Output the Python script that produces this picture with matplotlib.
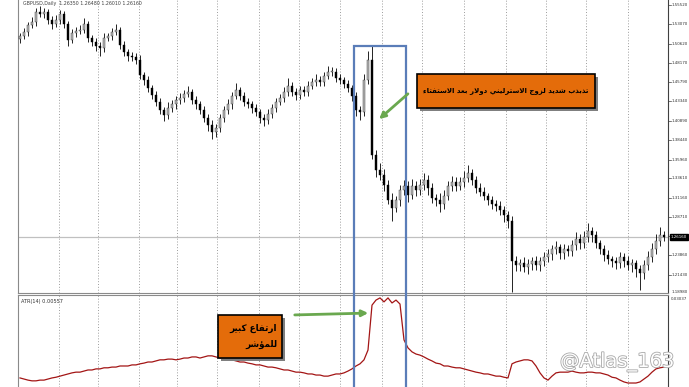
import matplotlib
matplotlib.use("Agg")
import matplotlib.pyplot as plt
import matplotlib.patches as patches
import matplotlib.patheffects as pe
import numpy as np

plt.rcParams['font.family'] = ['DejaVu Sans']

# ---- data ----
first_open = 1.5120
closes = [1.5160, 1.5211, 1.5299, 1.5337, 1.5463, 1.5438, 1.5463, 1.5362, 1.5312, 1.5362,
          1.5438, 1.5312, 1.5110, 1.5198, 1.5224, 1.5236, 1.5312, 1.5135, 1.5084, 1.5034,
          1.5008, 1.5135, 1.5160, 1.5211, 1.5236, 1.5046, 1.4958, 1.4907, 1.4895, 1.4857,
          1.4667, 1.4604, 1.4503, 1.4414, 1.4326, 1.4225, 1.4161, 1.4250, 1.4300, 1.4351,
          1.4376, 1.4427, 1.4452, 1.4351, 1.4300, 1.4225, 1.4124, 1.4035, 1.3947, 1.3997,
          1.4124, 1.4225, 1.4300, 1.4402, 1.4477, 1.4402, 1.4326, 1.4300, 1.4250, 1.4199,
          1.4124, 1.4098, 1.4174, 1.4250, 1.4326, 1.4376, 1.4452, 1.4528, 1.4452, 1.4414,
          1.4477, 1.4452, 1.4528, 1.4579, 1.4604, 1.4579, 1.4655, 1.4705, 1.4705, 1.4630,
          1.4604, 1.4554, 1.4503, 1.4402, 1.4225, 1.4199, 1.4604, 1.4857, 1.3659, 1.3469,
          1.3406, 1.3279, 1.3090, 1.2989, 1.3090, 1.3216, 1.3266, 1.3153, 1.3266, 1.3216,
          1.3279, 1.3342, 1.3241, 1.3115, 1.3090, 1.3039, 1.3140, 1.3266, 1.3317, 1.3266,
          1.3317, 1.3368, 1.3431, 1.3342, 1.3241, 1.3191, 1.3140, 1.3090, 1.3039, 1.3014,
          1.2964, 1.2893, 1.2818, 1.2314, 1.2263, 1.2289, 1.2238, 1.2276, 1.2314, 1.2263,
          1.2314, 1.2364, 1.2402, 1.2465, 1.2490, 1.2415, 1.2465, 1.2440, 1.2515, 1.2591,
          1.2541, 1.2616, 1.2692, 1.2641, 1.2541, 1.2465, 1.2389, 1.2339, 1.2314, 1.2289,
          1.2364, 1.2314, 1.2263, 1.2289, 1.2213, 1.2163, 1.2263, 1.2364, 1.2465, 1.2566,
          1.2641, 1.2616]

# wick lengths above / below the body, in pips
up_pips = [40, 55, 35, 60, 45, 70, 50, 35, 45, 60,
           55, 40, 35, 50, 45, 60, 70, 40, 35, 45,
           50, 65, 40, 45, 70, 35, 50, 40, 45, 55,
           60, 40, 50, 35, 45, 55, 40, 70, 50, 45,
           60, 55, 80, 40, 45, 35, 50, 45, 60, 55,
           45, 50, 60, 55, 90, 40, 45, 50, 35, 45,
           40, 55, 60, 45, 50, 55, 65, 100, 45, 50,
           55, 45, 60, 50, 70, 45, 55, 80, 60, 45,
           50, 40, 45, 40, 50, 45, 80, 110, 180, 60,
           80, 70, 60, 90, 50, 60, 75, 55, 80, 60,
           70, 90, 55, 60, 45, 80, 70, 60, 75, 55,
           60, 80, 95, 50, 45, 60, 55, 40, 50, 45,
           55, 50, 60, 70, 60, 55, 80, 60, 50, 65,
           55, 70, 60, 55, 80, 45, 60, 55, 70, 90,
           60, 80, 100, 55, 50, 45, 55, 60, 45, 50,
           70, 55, 60, 50, 45, 55, 70, 80, 75, 90,
           100, 60]
down_pips = [50, 40, 45, 35, 55, 40, 50, 45, 60, 40,
             45, 55, 80, 40, 50, 45, 35, 50, 45, 60,
             100, 45, 40, 50, 35, 55, 45, 60, 50, 45,
             50, 60, 45, 55, 50, 45, 80, 50, 45, 60,
             45, 50, 40, 55, 60, 45, 50, 70, 90, 60,
             55, 50, 45, 60, 40, 50, 55, 45, 60, 50,
             65, 70, 50, 45, 55, 40, 50, 45, 55, 60,
             45, 50, 55, 40, 45, 50, 45, 40, 55, 50,
             45, 55, 50, 60, 80, 100, 55, 50, 60, 90,
             70, 80, 60, 170, 60, 80, 70, 90, 60, 75,
             60, 70, 90, 65, 80, 100, 60, 55, 70, 60,
             55, 60, 50, 65, 70, 60, 55, 70, 60, 65,
             70, 80, 90, 390, 80, 70, 60, 90, 75, 60,
             70, 60, 55, 75, 60, 80, 70, 55, 60, 65,
             70, 55, 60, 80, 60, 55, 70, 65, 80, 75,
             60, 70, 65, 90, 100, 215, 70, 60, 65, 55,
             60, 50]

atr = [0.0075, 0.0072, 0.0069, 0.0067, 0.0067, 0.0069, 0.0069, 0.0072, 0.0075, 0.0077,
       0.0080, 0.0083, 0.0086, 0.0089, 0.0091, 0.0091, 0.0094, 0.0097, 0.0097, 0.0100,
       0.0100, 0.0103, 0.0103, 0.0105, 0.0105, 0.0108, 0.0108, 0.0108, 0.0111, 0.0111,
       0.0114, 0.0116, 0.0119, 0.0119, 0.0122, 0.0125, 0.0125, 0.0127, 0.0127, 0.0125,
       0.0127, 0.0130, 0.0130, 0.0133, 0.0133, 0.0130, 0.0133, 0.0136, 0.0136, 0.0133,
       0.0130, 0.0127, 0.0125, 0.0125, 0.0122, 0.0119, 0.0119, 0.0116, 0.0114, 0.0111,
       0.0111, 0.0108, 0.0105, 0.0105, 0.0103, 0.0100, 0.0097, 0.0097, 0.0094, 0.0091,
       0.0091, 0.0089, 0.0086, 0.0086, 0.0083, 0.0083, 0.0080, 0.0080, 0.0083, 0.0086,
       0.0086, 0.0089, 0.0094, 0.0100, 0.0108, 0.0114, 0.0125, 0.0152, 0.0276, 0.0290,
       0.0296, 0.0285, 0.0296, 0.0282, 0.0290, 0.0279, 0.0180, 0.0158, 0.0147, 0.0141,
       0.0138, 0.0133, 0.0127, 0.0122, 0.0116, 0.0114, 0.0108, 0.0108, 0.0105, 0.0103,
       0.0103, 0.0100, 0.0097, 0.0094, 0.0091, 0.0089, 0.0086, 0.0086, 0.0083, 0.0080,
       0.0080, 0.0077, 0.0075, 0.0114, 0.0119, 0.0122, 0.0125, 0.0125, 0.0122, 0.0108,
       0.0089, 0.0075, 0.0069, 0.0080, 0.0089, 0.0091, 0.0091, 0.0091, 0.0094, 0.0091,
       0.0089, 0.0089, 0.0091, 0.0091, 0.0089, 0.0089, 0.0086, 0.0083, 0.0077, 0.0075,
       0.0069, 0.0064, 0.0061, 0.0061, 0.0061, 0.0064, 0.0072, 0.0080, 0.0091, 0.0100,
       0.0103, 0.0105]

price_labels = ["1.55520", "1.53070", "1.50620", "1.48170", "1.45790", "1.43340",
                "1.40890", "1.38440", "1.35960", "1.33610", "1.31160", "1.28710",
                "1.26260", "1.23860", "1.21430", "1.18980"]
atr_label = "0.03037"
chart_title = "GBPUSD,Daily  1.26350 1.26480 1.26010 1.26160"
atr_title = "ATR(14) 0.00557"
note_big = "تذبذب شديد لزوج الاسترليني دولار بعد الاستفتاء"
note_small = ["ارتفاع كبير", "للمؤشر"]

# ---- tiny arabic shaper (matplotlib has no complex text layout) ----
FORMS = {
    'ا': ('\uFE8D', '\uFE8E', None, None),
    'ب': ('\uFE8F', '\uFE90', '\uFE91', '\uFE92'),
    'ت': ('\uFE95', '\uFE96', '\uFE97', '\uFE98'),
    'ج': ('\uFE9D', '\uFE9E', '\uFE9F', '\uFEA0'),
    'د': ('\uFEA9', '\uFEAA', None, None),
    'ذ': ('\uFEAB', '\uFEAC', None, None),
    'ر': ('\uFEAD', '\uFEAE', None, None),
    'ز': ('\uFEAF', '\uFEB0', None, None),
    'س': ('\uFEB1', '\uFEB2', '\uFEB3', '\uFEB4'),
    'ش': ('\uFEB5', '\uFEB6', '\uFEB7', '\uFEB8'),
    'ع': ('\uFEC9', '\uFECA', '\uFECB', '\uFECC'),
    'ف': ('\uFED1', '\uFED2', '\uFED3', '\uFED4'),
    'ك': ('\uFED9', '\uFEDA', '\uFEDB', '\uFEDC'),
    'ل': ('\uFEDD', '\uFEDE', '\uFEDF', '\uFEE0'),
    'م': ('\uFEE1', '\uFEE2', '\uFEE3', '\uFEE4'),
    'ن': ('\uFEE5', '\uFEE6', '\uFEE7', '\uFEE8'),
    'و': ('\uFEED', '\uFEEE', None, None),
    'ي': ('\uFEF1', '\uFEF2', '\uFEF3', '\uFEF4'),
    'ؤ': ('\uFE85', '\uFE86', None, None),
    'ء': ('\uFE80', '\uFE80', None, None),
}


def joins_next(c):
    f = FORMS.get(c)
    return f is not None and f[2] is not None


def shape(text):
    out = []
    i = 0
    n = len(text)
    while i < n:
        c = text[i]
        if c not in FORMS:
            out.append(c)
            i += 1
            continue
        prev = text[i - 1] if i > 0 else ''
        link_prev = joins_next(prev) and c != 'ء'
        if c == 'ل' and i + 1 < n and text[i + 1] == 'ا':
            out.append('\uFEFC' if link_prev else '\uFEFB')
            i += 2
            continue
        nxt = text[i + 1] if i + 1 < n else ''
        link_next = joins_next(c) and nxt in FORMS and nxt != 'ء'
        iso, fin, ini, med = FORMS[c]
        if link_prev and link_next:
            out.append(med)
        elif link_prev:
            out.append(fin)
        elif link_next:
            out.append(ini)
        else:
            out.append(iso)
        i += 1
    return ''.join(reversed(out))


# ---- figure ----
W, H = 689, 387
fig = plt.figure(figsize=(W / 100, H / 100), dpi=100)
fig.patch.set_facecolor('white')


def fx(px):
    return px / W


def fy(py):
    return 1 - py / H


ax = fig.add_axes([fx(18), fy(293), (668 - 18) / W, 293 / H])
ax2 = fig.add_axes([fx(18), 0, (668 - 18) / W, (387 - 295) / H])

n = len(closes)
idx = np.arange(n)
c = np.array(closes)
o = np.array([first_open] + closes[:-1])
hi = np.maximum(o, c) + np.array(up_pips) / 10000
lo = np.minimum(o, c) - np.array(down_pips) / 10000
up = c >= o

ax.vlines(idx, lo, hi, color='black', lw=0.6, zorder=3)
body_bot = np.minimum(o, c)
body_h = np.maximum(np.abs(c - o), 0.0008)
ax.bar(idx[up], body_h[up], bottom=body_bot[up], width=0.55,
       color='#b8b8b8', edgecolor='#303030', lw=0.3, zorder=4)
ax.bar(idx[~up], body_h[~up], bottom=body_bot[~up], width=0.55,
       color='black', edgecolor='black', lw=0.3, zorder=4)

ax.set_xlim(-0.5, 162)
ax.set_ylim(1.1911, 1.5615)
ax2.set_xlim(-0.5, 162)
ax2.set_ylim(0.0050, 0.0304)

ax2.plot(idx, atr, color='#a31515', lw=0.9, zorder=3)

grid_x = [9.75, 19.5, 29.75, 39.25, 49.25, 59.75, 69.75, 80, 90.5, 100.5,
          111, 121.5, 131.5, 141.5, 152]
for a in (ax, ax2):
    for gx in grid_x:
        a.axvline(gx, color='#909090', lw=0.6, linestyle=(0, (1.2, 2.2)), zorder=1)
    a.set_xticks([])
    a.set_yticks([])
    for s in ('top', 'bottom', 'left', 'right'):
        a.spines[s].set_color('#8a8a8a')
        a.spines[s].set_linewidth(0.8)
ax.spines['top'].set_visible(False)
ax2.spines['bottom'].set_visible(False)
ax.spines['right'].set_color('#404040')
ax2.spines['right'].set_color('#404040')

# current price line
ax.axhline(closes[-1], color='#c0c0c0', lw=0.9, zorder=2)

# right price scale
ytr = ax.get_yaxis_transform()
for lab in price_labels[:-1]:
    v = float(lab)
    ax.plot([1.0, 1.004], [v, v], transform=ytr, clip_on=False, color='#404040', lw=0.5)
    ax.text(1.005, v, lab, transform=ytr, fontsize=2.9, va='center', ha='left',
            color='#303030', clip_on=False)
ax.text(1.005, float(price_labels[-1]) + 0.003, price_labels[-1], transform=ytr,
        fontsize=2.9, va='center', ha='left', color='#303030', clip_on=False)
ax.text(1.004, closes[-1], f"{closes[-1]:.5f}", transform=ytr, fontsize=2.9,
        va='center', ha='left', color='white', clip_on=False, zorder=10,
        bbox=dict(boxstyle='square,pad=0.2', fc='black', ec='black'))
ax2.text(1.005, 0.0293, atr_label, transform=ax2.get_yaxis_transform(), fontsize=2.9,
         va='center', ha='left', color='#303030', clip_on=False)

ax.text(0.008, 0.998, chart_title, transform=ax.transAxes, fontsize=3.4,
        va='top', ha='left', color='#404040')
ax2.text(0.004, 0.96, atr_title, transform=ax2.transAxes, fontsize=3.6,
         va='top', ha='left', color='#303030')

# blue highlight rectangle
fig.add_artist(patches.Rectangle((fx(354), fy(392)), (406 - 354) / W, (392 - 46) / H,
                                 transform=fig.transFigure, fill=False,
                                 edgecolor='#5a7db8', lw=1.6, zorder=20))

# big note box
fig.add_artist(patches.Rectangle((fx(420), fy(111)), (595 - 417) / W, (108 - 74) / H,
                                 transform=fig.transFigure, facecolor='#7f7f7f',
                                 edgecolor='none', zorder=21))
fig.add_artist(patches.Rectangle((fx(417), fy(108)), (595 - 417) / W, (108 - 74) / H,
                                 transform=fig.transFigure, facecolor='#e46c0a',
                                 edgecolor='black', lw=1.2, zorder=22))
fig.text(fx(506), fy(91), shape(note_big), ha='center', va='center',
         fontsize=5.0, fontweight='bold', color='black', zorder=23)
fig.add_artist(patches.FancyArrowPatch((fx(410), fy(92)), (fx(377), fy(121)),
                                       transform=fig.transFigure, arrowstyle='-|>',
                                       mutation_scale=9, color='#6aa84f', lw=2, zorder=23))

# small note box
fig.add_artist(patches.Rectangle((fx(221), fy(361)), (282 - 218) / W, (358 - 315) / H,
                                 transform=fig.transFigure, facecolor='#7f7f7f',
                                 edgecolor='none', zorder=21))
fig.add_artist(patches.Rectangle((fx(218), fy(358)), (282 - 218) / W, (358 - 315) / H,
                                 transform=fig.transFigure, facecolor='#e46c0a',
                                 edgecolor='black', lw=1.2, zorder=22))
fig.text(fx(277), fy(328), shape(note_small[0]), ha='right', va='center',
         fontsize=6.3, fontweight='bold', color='black', zorder=23)
fig.text(fx(277), fy(344), shape(note_small[1]), ha='right', va='center',
         fontsize=6.3, fontweight='bold', color='black', zorder=23)
fig.add_artist(patches.FancyArrowPatch((fx(292), fy(315)), (fx(371), fy(313)),
                                       transform=fig.transFigure, arrowstyle='-|>',
                                       mutation_scale=9, color='#6aa84f', lw=2, zorder=23))

# watermark
fig.text(fx(560), fy(362), "@Atlas_163", ha='left', va='center', fontsize=14,
         color='white', zorder=30,
         path_effects=[pe.withStroke(linewidth=1.2, foreground='#a8a8a8')])

fig.savefig('out.png', dpi=100)
